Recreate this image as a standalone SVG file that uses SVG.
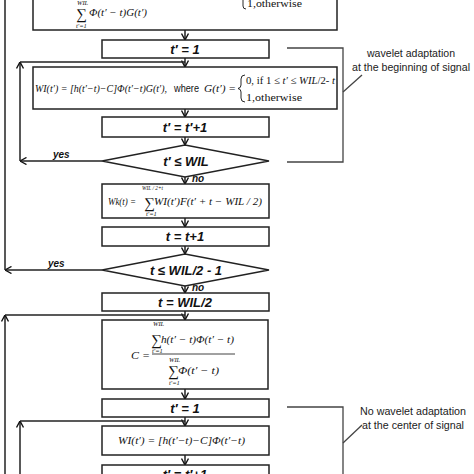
<svg xmlns="http://www.w3.org/2000/svg" width="474" height="474" viewBox="0 0 474 474">
<defs>
<style>
.box{fill:#fff;stroke:#222;stroke-width:1.5}
.ln{fill:none;stroke:#222;stroke-width:1.5}
.br{fill:none;stroke:#444;stroke-width:1.3}
.lbl{font-family:"Liberation Sans",Arial,sans-serif;font-weight:bold;font-style:italic;font-size:13px;fill:#111;text-anchor:middle}
.yn{font-family:"Liberation Sans",Arial,sans-serif;font-weight:bold;font-style:italic;font-size:10px;fill:#111}
.m{font-family:"Liberation Serif","Times New Roman",serif;font-style:italic;font-size:11px;fill:#111}
.mu{font-family:"Liberation Serif","Times New Roman",serif;font-size:11px;fill:#111}
.sm{font-family:"Liberation Serif","Times New Roman",serif;font-style:italic;font-size:6.5px;fill:#111}
.sg{font-family:"Liberation Serif","DejaVu Serif",serif;font-size:15px;fill:#111}
.sans{font-family:"Liberation Sans",Arial,sans-serif;font-size:11px;fill:#111}
.note{font-family:"Liberation Sans",Arial,sans-serif;font-size:11px;fill:#222;text-anchor:middle}
</style>
<marker id="ah" viewBox="0 0 8 8" refX="7.5" refY="4" markerWidth="8" markerHeight="8" orient="auto" markerUnits="userSpaceOnUse">
<path d="M1,0.5 L7.5,4 L1,7.5" fill="none" stroke="#111" stroke-width="1.4"/>
</marker>
</defs>
<rect width="474" height="474" fill="#fff"/>

<g id="connectors">
<line class="ln" x1="185" y1="30" x2="185" y2="40" marker-end="url(#ah)"/>
<line class="ln" x1="185" y1="58" x2="185" y2="67" marker-end="url(#ah)"/>
<line class="ln" x1="185" y1="109" x2="185" y2="117" marker-end="url(#ah)"/>
<line class="ln" x1="185" y1="137" x2="185" y2="145" marker-end="url(#ah)"/>
<line class="ln" x1="185" y1="177" x2="185" y2="184" marker-end="url(#ah)"/>
<line class="ln" x1="185" y1="218" x2="185" y2="227" marker-end="url(#ah)"/>
<line class="ln" x1="185" y1="246" x2="185" y2="254" marker-end="url(#ah)"/>
<line class="ln" x1="185" y1="286" x2="185" y2="293" marker-end="url(#ah)"/>
<line class="ln" x1="185" y1="311" x2="185" y2="320" marker-end="url(#ah)"/>
<line class="ln" x1="185" y1="389" x2="185" y2="399" marker-end="url(#ah)"/>
<line class="ln" x1="185" y1="417" x2="185" y2="426" marker-end="url(#ah)"/>
<line class="ln" x1="185" y1="455" x2="185" y2="465" marker-end="url(#ah)"/>
<!-- loop 1 -->
<line class="ln" x1="102" y1="161" x2="20" y2="161" marker-end="url(#ah)"/>
<line class="ln" x1="20" y1="161" x2="20" y2="62" marker-end="url(#ah)"/>
<line class="ln" x1="20" y1="62" x2="185" y2="62"/>
<!-- loop 2 -->
<line class="ln" x1="102" y1="270" x2="5" y2="270" marker-end="url(#ah)"/>
<line class="ln" x1="5" y1="270" x2="5" y2="-5"/>
<!-- loop 3 -->
<line class="ln" x1="5" y1="480" x2="5" y2="315" marker-end="url(#ah)"/>
<line class="ln" x1="5" y1="315" x2="185" y2="315"/>
<!-- loop 4 -->
<line class="ln" x1="20" y1="480" x2="20" y2="421" marker-end="url(#ah)"/>
<line class="ln" x1="20" y1="421" x2="185" y2="421"/>
<text class="yn" x="53" y="158">yes</text>
<text class="yn" x="48" y="267">yes</text>
<text class="yn" x="192" y="182">no</text>
<text class="yn" x="192" y="291">no</text>
</g>

<g id="box-top">
<rect class="box" x="33" y="-20" width="304" height="50"/>
<text class="sm" x="77" y="5">WIL</text>
<text class="sg" x="76" y="19">∑</text>
<text class="sm" x="76" y="28">t′=1</text>
<text class="m" x="89" y="16" textLength="58" lengthAdjust="spacingAndGlyphs">Φ(t′ − t)G(t′)</text>
<path d="M246,-4 Q243,-4 243,0 L243,6 Q243,9 246,9" fill="none" stroke="#111" stroke-width="0.9"/>
<text class="mu" x="247" y="7" textLength="55" lengthAdjust="spacingAndGlyphs">1,otherwise</text>
</g>

<g id="box-t1a">
<rect class="box" x="102" y="40" width="167" height="18"/>
<text class="lbl" x="185" y="54">t′ = 1</text>
</g>

<g id="box-wi1">
<rect class="box" x="33" y="67" width="304" height="42"/>
<text class="m" x="35" y="92" textLength="132" lengthAdjust="spacingAndGlyphs">WI(t′) = [h(t′−t)−C]Φ(t′−t)G(t′),</text>
<text class="sans" x="174" y="92" textLength="25" lengthAdjust="spacingAndGlyphs">where</text>
<text class="m" x="204" y="92" textLength="32" lengthAdjust="spacingAndGlyphs">G(t′) =</text>
<path d="M245,75 Q241,75 241,79 L241,85 Q241,88 238,88.5 Q241,89 241,92 L241,98 Q241,102 245,102" fill="none" stroke="#111" stroke-width="0.9"/>
<text class="mu" x="246" y="84" textLength="89" lengthAdjust="spacingAndGlyphs">0, if 1 ≤ <tspan font-style="italic">t′</tspan> ≤ <tspan font-style="italic">WIL</tspan>/2- <tspan font-style="italic">t</tspan></text>
<text class="mu" x="246" y="101" textLength="56" lengthAdjust="spacingAndGlyphs">1,otherwise</text>
</g>

<g id="box-inc1">
<rect class="box" x="102" y="117" width="167" height="20"/>
<text class="lbl" x="185" y="132">t′ = t′+1</text>
</g>

<g id="dec1">
<polygon class="box" points="102,161 185,145 269,161 185,177"/>
<text class="lbl" x="186" y="166">t′ ≤ WIL</text>
</g>

<g id="box-wk">
<rect class="box" x="102" y="184" width="167" height="34"/>
<text class="m" x="108" y="205" textLength="28" lengthAdjust="spacingAndGlyphs">Wk(t) =</text>
<text class="sm" x="142" y="190" textLength="21" lengthAdjust="spacingAndGlyphs">WIL / 2+t</text>
<text class="sg" x="144" y="208">∑</text>
<text class="sm" x="146" y="216">t′=1</text>
<text class="m" x="154" y="205" textLength="108" lengthAdjust="spacingAndGlyphs">WI(t′)F(t′ + t − WIL / 2)</text>
</g>

<g id="box-inc2">
<rect class="box" x="102" y="227" width="167" height="19"/>
<text class="lbl" x="185" y="241">t = t+1</text>
</g>

<g id="dec2">
<polygon class="box" points="102,270 185,254 269,270 185,286"/>
<text class="lbl" x="186" y="275">t ≤ WIL/2 - 1</text>
</g>

<g id="box-thalf">
<rect class="box" x="102" y="293" width="167" height="18"/>
<text class="lbl" x="185" y="307">t = WIL/2</text>
</g>

<g id="box-c">
<rect class="box" x="102" y="320" width="166" height="69"/>
<text class="sm" x="153" y="326">WIL</text>
<text class="sg" x="151" y="345">∑</text>
<text class="sm" x="152" y="353">t′=1</text>
<text class="m" x="161" y="343" textLength="73" lengthAdjust="spacingAndGlyphs">h(t′ − t)Φ(t′ − t)</text>
<text class="m" x="131" y="359" textLength="19" lengthAdjust="spacingAndGlyphs">C =</text>
<line x1="152" y1="354" x2="235" y2="354" stroke="#111" stroke-width="0.8"/>
<text class="sm" x="169" y="362">WIL</text>
<text class="sg" x="168" y="376">∑</text>
<text class="sm" x="169" y="385">t′=1</text>
<text class="m" x="178" y="374" textLength="41" lengthAdjust="spacingAndGlyphs">Φ(t′ − t)</text>
</g>

<g id="box-t1b">
<rect class="box" x="102" y="399" width="167" height="18"/>
<text class="lbl" x="185" y="413">t′ = 1</text>
</g>

<g id="box-wi2">
<rect class="box" x="102" y="426" width="167" height="29"/>
<text class="m" x="118" y="444" textLength="127" lengthAdjust="spacingAndGlyphs">WI(t′) = [h(t′−t)−C]Φ(t′−t)</text>
</g>

<g id="box-inc3">
<rect class="box" x="102" y="465" width="167" height="20"/>
<text class="lbl" x="185" y="479">t′ = t′+1</text>
</g>

<g id="note1">
<polyline class="br" points="287,48 343,48 343,162 287,162"/>
<line class="br" x1="343" y1="92" x2="362" y2="75"/>
<text class="note" x="411" y="57" textLength="88" lengthAdjust="spacingAndGlyphs">wavelet adaptation</text>
<text class="note" x="411" y="71" textLength="118" lengthAdjust="spacingAndGlyphs">at the beginning of signal</text>
</g>

<g id="note2">
<polyline class="br" points="287,407 343,407 343,480"/>
<line class="br" x1="343" y1="443" x2="362" y2="425"/>
<text class="note" x="413" y="415" textLength="106" lengthAdjust="spacingAndGlyphs">No wavelet adaptation</text>
<text class="note" x="413" y="429" textLength="102" lengthAdjust="spacingAndGlyphs">at the center of signal</text>
</g>
</svg>
